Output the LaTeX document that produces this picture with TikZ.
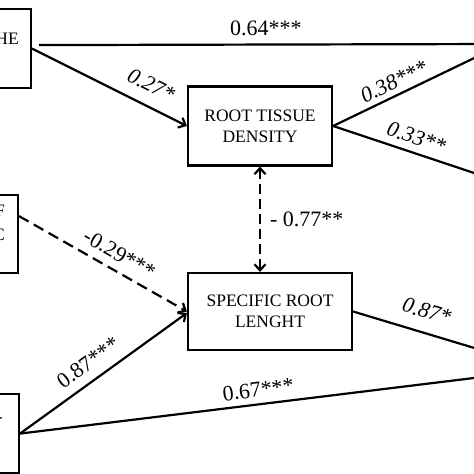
\documentclass[tikz,border=0pt]{standalone}
\usepackage{fontspec}
\setmainfont{Liberation Serif}
\usepackage{tikz}
\usetikzlibrary{arrows.meta}
\tikzstyle{var}=[draw,line width=2.2pt,inner sep=0pt,align=center,font=\fontsize{17.5}{21}\selectfont]
\tikzstyle{cut}=[inner sep=0pt,font=\fontsize{17.5}{21}\selectfont]
\tikzstyle{coef}=[sloped,above,inner sep=8pt,font=\fontsize{22}{22}\selectfont]
\tikzstyle{effhead}=[>/.tip={Straight Barb[length=6pt,width=11pt]}]
\tikzstyle{lnk}=[line width=2.2pt]
\tikzstyle{eff}=[line width=2.2pt,effhead,->]
\tikzstyle{corr}=[line width=2.2pt,effhead,<->,dash pattern=on 10pt off 5pt]
\begin{document}
\begin{tikzpicture}[x=1pt,y=-1pt]
	\useasboundingbox (0,0) rectangle (474,474);
	% predictors, cut by the left edge
	\node[var,minimum width=100pt,minimum height=79pt,anchor=north east] (he)  at (32,8)   {};
	\node[var,minimum width=100pt,minimum height=78pt,anchor=north east] (mid) at (19,194) {};
	\node[var,minimum width=100pt,minimum height=79pt,anchor=north east] (low) at (20,393) {};
	\node[cut,anchor=east] (het) at (19,39)  {HE};
	\node[cut,anchor=east] (mf)  at (5,211)  {F};
	\node[cut,anchor=east] (mc)  at (5,235)  {C};
	\node[cut,anchor=east] (lt)  at (3,420)  {-};
	% root traits
	\node[var,minimum width=144pt,minimum height=79pt] (rtd) at (260,126)   {ROOT TISSUE\\DENSITY};
	\node[var,minimum width=164pt,minimum height=77pt] (srl) at (270,311.5) {SPECIFIC ROOT\\LENGHT};
	% targets beyond the right edge
	\coordinate (o1) at (500,44);
	\coordinate (o2) at (500,45.6);
	\coordinate (o3) at (500,181.6);
	\coordinate (o4) at (500,355.7);
	\coordinate (o5) at (500,374.8);
	\draw[lnk,shorten <=7pt] ([yshift=3.5pt]he.east) --node[coef,pos=.5]{0.64***} (o1);
	\draw[eff] (he.east) --node[coef,pos=.71,inner sep=12pt]{\itshape 0.27*} (rtd.west);
	\draw[lnk] (rtd.east) --node[coef,pos=.4,inner sep=5pt]{\itshape 0.38***} (o2);
	\draw[lnk] (rtd.east) --node[coef,pos=.47,inner sep=7pt]{\itshape 0.33**} (o3);
	\draw[corr] (rtd.south) --node[right,inner sep=9pt,font=\fontsize{22}{22}\selectfont]{- 0.77**} (rtd.south |- srl.north);
	\draw[eff,dash pattern=on 11pt off 6pt] ([yshift=18pt]mid.east) --node[coef,pos=.55]{-0.29***} (srl.west);
	\draw[eff] (low.east) --node[coef,pos=.47,inner sep=9pt]{0.87***} ([yshift=-1.5pt]srl.west);
	\draw[lnk] (low.east) --node[coef,pos=.5,inner sep=6pt]{0.67***} (o5);
	\draw[lnk] (srl.east) --node[coef,pos=.46,inner sep=13pt]{\itshape 0.87*} (o4);
\end{tikzpicture}
\end{document}
